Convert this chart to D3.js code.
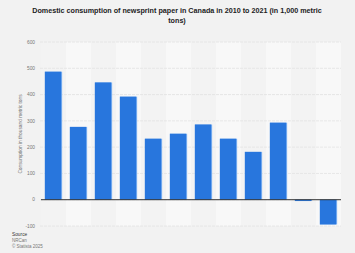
<!DOCTYPE html>
<html>
<head>
<meta charset="utf-8">
<script src="https://cdn.jsdelivr.net/npm/d3@7"></script>
<style>
  body { margin: 0; background: #f2f2f2; }
  svg { display: block; font-family: "Liberation Sans", Arial, sans-serif; }
</style>
</head>
<body>
<svg></svg>
<script>
// data
var years = ["2010","2011","2012","2013","2014","2015","2016","2017","2018","2019","2020","2021"];
var consumption = [487, 277, 446, 392, 232, 251, 286, 232, 182, 293, -5, -94];
var yTicks = [-100, 0, 100, 200, 300, 400, 500, 600];

var svg = d3.select("svg")
            .attr("width", 355)
            .attr("height", 253);

svg.append("rect").attr("width", 355).attr("height", 253).attr("fill", "#f2f2f2");

var margin = {top: 42, left: 41, right: 14, bottom: 27},
    width = 355 - margin.left - margin.right,
    height = 253 - margin.top - margin.bottom;

var g = svg.append("g").attr("transform", "translate(" + margin.left + "," + margin.top + ")");

//scales
var x = d3.scaleBand().domain(years).range([0, width]).paddingInner(0.31).paddingOuter(0.155);
var xb = d3.scaleBand().domain(years).range([0, width]);
var y = d3.scaleLinear().domain([-100, 600]).range([height, 0]);

//alternating bands
g.selectAll(".band")
    .data(years)
    .enter().append("rect")
    .attr("class", "band")
    .attr("x", function(d) { return xb(d); })
    .attr("y", 0)
    .attr("width", xb.bandwidth())
    .attr("height", height)
    .attr("fill", function(d, i) { return i % 2 ? "#f8f8f8" : "#f3f3f3"; });

//grid
g.selectAll(".grid")
    .data(yTicks)
    .enter().append("line")
    .attr("x1", -1).attr("x2", width)
    .attr("y1", function(d) { return y(d); })
    .attr("y2", function(d) { return y(d); })
    .attr("stroke", "#e2e2e2")
    .attr("stroke-width", 0.8)
    .attr("stroke-dasharray", "3,1");

//y axis labels
g.selectAll(".ylab")
    .data(yTicks)
    .enter().append("text")
    .attr("x", -6)
    .attr("y", function(d) { return y(d); })
    .attr("dy", "0.35em")
    .attr("text-anchor", "end")
    .attr("font-size", 4.8)
    .attr("fill", "#777")
    .text(function(d) { return d; });

//bars
var bars = g.selectAll(".bar")
    .data(consumption)
    .enter().append("g");

bars.append("rect")
    .attr("x", function(d, i) { return x(years[i]); })
    .attr("y", function(d) { return y(Math.max(0, d)); })
    .attr("width", x.bandwidth())
    .attr("height", function(d) { return Math.abs(y(d) - y(0)); })
    .attr("fill", "#7aaef0");

bars.append("rect")
    .attr("x", function(d, i) { return x(years[i]); })
    .attr("y", function(d) { return y(Math.max(0, d)); })
    .attr("width", x.bandwidth() - 1)
    .attr("height", function(d) { return Math.abs(y(d) - y(0)); })
    .attr("fill", "#2876dd");

//zero line
g.append("line")
    .attr("x1", 0).attr("x2", width)
    .attr("y1", y(0)).attr("y2", y(0))
    .attr("stroke", "#333")
    .attr("stroke-width", 1);

//y title
svg.append("text")
    .attr("transform", "translate(22," + (margin.top + y(250)) + ") rotate(-90)")
    .attr("text-anchor", "middle")
    .attr("font-size", 4.8)
    .attr("fill", "#777")
    .text("Consumption in thousand metric tons");

//title
var title = svg.append("text")
    .attr("text-anchor", "middle")
    .attr("font-size", 7.2)
    .attr("font-weight", "bold")
    .attr("fill", "#222");
title.append("tspan").attr("x", 177).attr("y", 13)
    .text("Domestic consumption of newsprint paper in Canada in 2010 to 2021 (in 1,000 metric");
title.append("tspan").attr("x", 177).attr("y", 23).text("tons)");

//source
svg.append("text").attr("x", 12).attr("y", 236).attr("font-size", 4.8).attr("fill", "#333").text("Source");
svg.append("text").attr("x", 12).attr("y", 242).attr("font-size", 4.5).attr("fill", "#777").text("NRCan");
svg.append("text").attr("x", 12).attr("y", 248).attr("font-size", 4.5).attr("fill", "#777").text("© Statista 2025");
</script>
</body>
</html>
